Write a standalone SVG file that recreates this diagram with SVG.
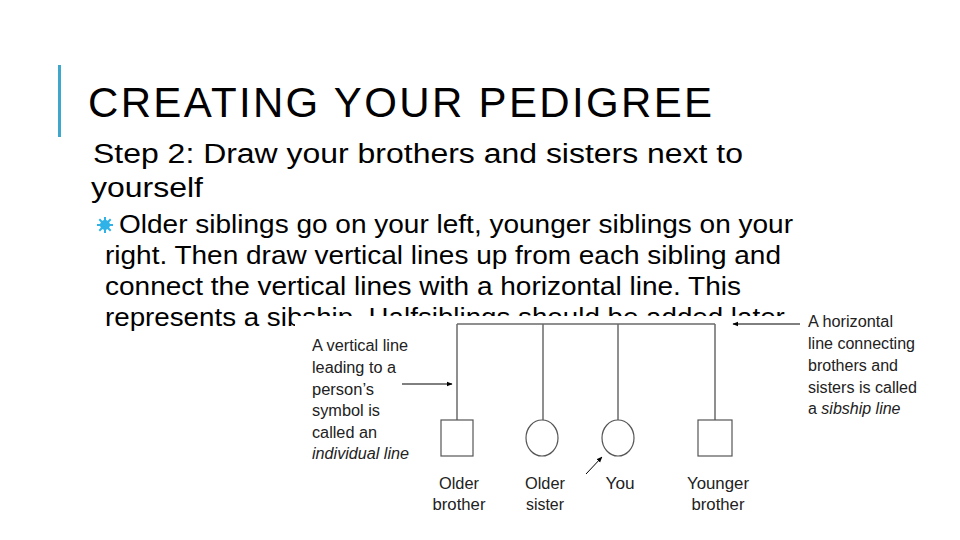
<svg xmlns="http://www.w3.org/2000/svg" width="960" height="540" viewBox="0 0 960 540">
<defs>
<style>
text{font-family:"Liberation Sans",Arial,sans-serif;fill:#000}
.title{font-size:42px}
.step{font-size:27px}
.body{font-size:25px}
.lbl{font-size:16px;fill:#222}
.it{font-style:italic}
.ped{stroke:#6b6b6b;stroke-width:1.5;fill:none}
.sym{stroke:#555;stroke-width:1.2;fill:#fff}
.arr{stroke:#000;stroke-width:1;fill:none}
</style>
<marker id="ah" viewBox="0 0 10 10" refX="9" refY="5" markerWidth="6" markerHeight="6" orient="auto">
<path d="M0,1 L10,5 L0,9 z" fill="#000"/>
</marker>
</defs>
<rect width="960" height="540" fill="#fff"/>
<rect x="58" y="65" width="3" height="72" fill="#3fa7cb"/>
<text class="title" x="88" y="117" textLength="624" lengthAdjust="spacing">CREATING YOUR PEDIGREE</text>
<text class="step" x="93" y="163" textLength="650" lengthAdjust="spacingAndGlyphs">Step 2: Draw your brothers and sisters next to</text>
<text class="step" x="91" y="197" textLength="112" lengthAdjust="spacingAndGlyphs">yourself</text>
<g id="bullet" fill="#2fb2e8">
<circle cx="105" cy="225" r="5"/>
<path d="M105,217 L105,233 M97,225 L113,225 M99.3,219.3 L110.7,230.7 M99.3,230.7 L110.7,219.3" stroke="#2fb2e8" stroke-width="2"/>
</g>
<text class="body" x="119" y="233" textLength="674" lengthAdjust="spacingAndGlyphs">Older siblings go on your left, younger siblings on your</text>
<text class="body" x="105" y="264" textLength="676" lengthAdjust="spacingAndGlyphs">right. Then draw vertical lines up from each sibling and</text>
<text class="body" x="105" y="295" textLength="636" lengthAdjust="spacingAndGlyphs">connect the vertical lines with a horizontal line. This</text>
<text class="body" x="105" y="326" textLength="686" lengthAdjust="spacingAndGlyphs">represents a sibship. Halfsiblings should be added later.</text>
<rect id="figure" x="295" y="316" width="640" height="210" fill="#fff"/>
<g id="connectors">
<path class="ped" d="M457,324 H715 M457,324 V420 M543,324 V420 M618,324 V420 M715,324 V420"/>
<line class="arr" x1="800" y1="324" x2="733" y2="324" marker-end="url(#ah)"/>
<line class="arr" x1="402" y1="384" x2="452" y2="384" marker-end="url(#ah)"/>
<line class="arr" x1="586" y1="474" x2="602" y2="457" marker-end="url(#ah)"/>
</g>
<g id="older-brother">
<rect class="sym" x="441" y="420" width="32" height="36"/>
<text class="lbl" x="459" y="489" text-anchor="middle" textLength="40" lengthAdjust="spacingAndGlyphs">Older</text>
<text class="lbl" x="459" y="510" text-anchor="middle" textLength="53" lengthAdjust="spacingAndGlyphs">brother</text>
</g>
<g id="older-sister">
<ellipse class="sym" cx="542" cy="438" rx="16" ry="18"/>
<text class="lbl" x="545" y="489" text-anchor="middle" textLength="40" lengthAdjust="spacingAndGlyphs">Older</text>
<text class="lbl" x="545" y="510" text-anchor="middle" textLength="38" lengthAdjust="spacingAndGlyphs">sister</text>
</g>
<g id="you">
<ellipse class="sym" cx="618" cy="438" rx="16" ry="18"/>
<text class="lbl" x="620" y="489" text-anchor="middle" textLength="29" lengthAdjust="spacingAndGlyphs">You</text>
</g>
<g id="younger-brother">
<rect class="sym" x="698" y="420" width="34" height="36"/>
<text class="lbl" x="718" y="489" text-anchor="middle" textLength="62" lengthAdjust="spacingAndGlyphs">Younger</text>
<text class="lbl" x="718" y="510" text-anchor="middle" textLength="53" lengthAdjust="spacingAndGlyphs">brother</text>
</g>
<g id="individual-line-note">
<text class="lbl" x="312" y="351" textLength="96" lengthAdjust="spacingAndGlyphs">A vertical line</text>
<text class="lbl" x="312" y="373" textLength="84" lengthAdjust="spacingAndGlyphs">leading to a</text>
<text class="lbl" x="312" y="395" textLength="62" lengthAdjust="spacingAndGlyphs">person’s</text>
<text class="lbl" x="312" y="416" textLength="68" lengthAdjust="spacingAndGlyphs">symbol is</text>
<text class="lbl" x="312" y="438" textLength="65" lengthAdjust="spacingAndGlyphs">called an</text>
<text class="lbl it" x="312" y="459" textLength="97" lengthAdjust="spacingAndGlyphs">individual line</text>
</g>
<g id="sibship-line-note">
<text class="lbl" x="808" y="327" textLength="85" lengthAdjust="spacingAndGlyphs">A horizontal</text>
<text class="lbl" x="808" y="349" textLength="107" lengthAdjust="spacingAndGlyphs">line connecting</text>
<text class="lbl" x="808" y="371" textLength="90" lengthAdjust="spacingAndGlyphs">brothers and</text>
<text class="lbl" x="808" y="393" textLength="109" lengthAdjust="spacingAndGlyphs">sisters is called</text>
<text class="lbl" x="808" y="414">a <tspan class="it">sibship line</tspan></text>
</g>
</svg>
